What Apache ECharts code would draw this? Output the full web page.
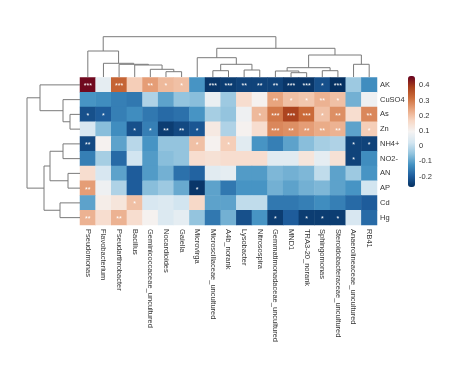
<!DOCTYPE html>
<html><head><meta charset="utf-8">
<script src="https://cdn.jsdelivr.net/npm/echarts@6/dist/echarts.min.js"></script>
<style>html,body{margin:0;padding:0;background:#fff}#c{width:474px;height:365px}</style>
</head><body><div id="c"></div>
<script>
const genera = ['Pseudomonas','Flavobacterium','Pseudarthrobacter','Bacillus','Geminicoccaceae_uncultured','Nocardioides','Gaiella','Microvirga','Microscillaceae_uncultured','A4b_norank','Lysobacter','Nitrosospira','Gemmatimonadaceae_uncultured','MND1','TRA3-20_norank','Sphingomonas','Steroidobacteraceae_uncultured','Anaerolineaceae_uncultured','RB41'];
const factors = ['AK','CuSO4','As','Zn','NH4+','NO2-','AN','AP','Cd','Hg'];

const vAK    = [0.45,0.06,0.33,0.18,0.25,0.21,0.20,-0.12,-0.26,-0.25,-0.24,-0.24,-0.24,-0.26,-0.26,-0.22,-0.27,-0.04,-0.13];
const vCuSO4 = [-0.12,-0.13,-0.15,-0.16,-0.02,-0.10,-0.05,-0.06,0.07,-0.04,0.15,0.10,0.24,0.20,0.19,0.22,0.20,-0.08,0.08];
const vAs    = [-0.22,-0.20,-0.15,-0.13,-0.16,-0.18,-0.17,-0.12,-0.03,-0.05,0.08,0.21,0.30,0.38,0.32,0.20,0.27,0.15,0.28];
const vZn    = [0.03,-0.06,-0.13,-0.22,-0.15,-0.25,-0.23,-0.21,0.12,-0.02,0.10,0.15,0.28,0.27,0.25,0.23,0.22,-0.10,0.18];
const vNH4   = [-0.23,0.10,-0.10,-0.01,-0.12,-0.05,-0.05,0.20,0.10,0.18,0.05,-0.12,-0.15,-0.10,-0.06,-0.03,-0.02,-0.24,-0.24];
const vNO2   = [-0.15,-0.03,-0.18,0.02,-0.11,-0.06,-0.05,0.15,0.14,0.15,0.15,0.15,0.05,0.05,0.13,0.06,0.14,-0.24,-0.13];
const vAN    = [0.15,0.03,-0.10,-0.20,-0.11,-0.08,-0.17,-0.19,0.05,0.06,-0.11,-0.11,-0.07,-0.08,-0.07,0.00,-0.10,-0.04,-0.12];
const vAP    = [0.25,0.08,-0.02,-0.20,-0.06,-0.04,-0.09,-0.26,-0.10,-0.16,-0.12,-0.12,-0.08,-0.10,-0.08,-0.07,-0.10,-0.12,0.02];
const vCd    = [-0.10,0.11,0.13,0.20,0.03,0.04,0.02,0.16,-0.10,-0.10,0.00,0.00,-0.16,-0.16,-0.15,-0.13,-0.15,-0.18,-0.20];
const vHg    = [0.22,0.15,0.22,0.15,0.10,0.04,0.06,-0.05,-0.16,-0.08,-0.22,-0.12,-0.25,-0.20,-0.25,-0.25,-0.25,0.03,-0.18];

const sAK    = ['***','','***','','**','*','*','','***','***','**','**','**','***','***','*','***','',''];
const sCuSO4 = ['','','','','','','','','','','','','**','*','*','**','*','',''];
const sAs    = ['*','*','','','','','','','','','','*','***','***','***','*','**','','**'];
const sZn    = ['','','','*','*','**','**','*','','','','','***','**','**','**','**','','*'];
const sNH4   = ['**','','','','','','','*','','*','','','','','','','','*','*'];
const sNO2   = ['','','','','','','','','','','','','','','','','','*',''];
const sAN    = ['','','','','','','','','','','','','','','','','','',''];
const sAP    = ['**','','','','','','','*','','','','','','','','','','',''];
const sCd    = ['','','','*','','','','','','','','','','','','','','',''];
const sHg    = ['**','','**','','','','','','','','','','*','','*','*','*','',''];

const values = [vAK,vCuSO4,vAs,vZn,vNH4,vNO2,vAN,vAP,vCd,vHg];
const stars  = [sAK,sCuSO4,sAs,sZn,sNH4,sNO2,sAN,sAP,sCd,sHg];

// dendrograms (hclust-style merges: negative = leaf index, positive = earlier merge; third = height)
const colMerges = [[-6,-7,5.3],[-5,1,7.7],[-4,2,12],[-3,3,12.7],[-2,4,13.7],[-1,5,26],
  [-9,-10,6.3],[-11,-12,7],[7,8,12.7],[-8,9,19.3],[-14,-15,4.3],[-13,11,6],[-16,-17,6.3],
  [12,13,9.3],[-18,-19,12.7],[14,15,22],[10,16,28.7],[6,17,40.3]];
const rowMerges = [[-3,-4,10],[-2,1,17],[-1,2,40],[-5,-6,17],[-7,-8,12],[4,5,30],[-9,-10,20],[6,7,36],[3,8,53]];

const cbTicks = [-0.2,-0.1,0,0.1,0.2,0.3,0.4];

function dendro(merges, swap){
  const pos=[], hgt=[], out=[];
  const ref = r => r<0 ? [(-r)-0.5, 0] : [pos[r-1], hgt[r-1]];
  merges.forEach((m,k)=>{
    const [xa,ha]=ref(m[0]), [xb,hb]=ref(m[1]), h=m[2];
    let c=[[xa,ha],[xa,h],[xb,h],[xb,hb]];
    if(swap) c=c.map(p=>[p[1],p[0]]);
    out.push({coords:c});
    pos[k]=(xa+xb)/2; hgt[k]=h;
  });
  return out;
}

const heat=[];
values.forEach((row,r)=>row.forEach((v,c)=>heat.push({value:[c,r,v], star:stars[r][c]})));

const font='Liberation Sans';
const chart=echarts.init(document.getElementById('c'),null,{renderer:'canvas'});
chart.setOption({
  animation:false,
  textStyle:{fontFamily:font},
  grid:[
    {left:80,top:77.5,width:297,height:147.5},
    {left:80,top:36,width:297,height:41},
    {left:25,top:77.5,width:55,height:147.5},
    {left:408,top:70.1,width:7,height:121.6}
  ],
  xAxis:[
    {type:'category',gridIndex:0,data:genera,axisLine:{show:false},axisTick:{show:false},splitLine:{show:false},
     axisLabel:{rotate:-90,fontSize:7.5,color:'#333',margin:4,interval:0,fontFamily:font}},
    {type:'value',gridIndex:1,min:0,max:19,show:false},
    {type:'value',gridIndex:2,min:0,max:55,inverse:true,show:false},
    {type:'value',gridIndex:3,min:0,max:1,show:false}
  ],
  yAxis:[
    {type:'category',gridIndex:0,data:factors,inverse:true,position:'right',axisLine:{show:false},axisTick:{show:false},splitLine:{show:false},
     axisLabel:{fontSize:7.5,color:'#333',margin:3,fontFamily:font}},
    {type:'value',gridIndex:1,min:0,max:41,show:false},
    {type:'value',gridIndex:2,min:0,max:10,inverse:true,show:false},
    {type:'value',gridIndex:3,min:-0.3,max:0.5,interval:0.1,position:'right',axisLine:{show:false},axisTick:{show:false},splitLine:{show:false},
     axisLabel:{fontSize:7.5,color:'#333',margin:4,fontFamily:font,
       formatter:v=>{const r=Math.round(v*10)/10; return cbTicks.indexOf(r)>=0? String(r):'';}}}
  ],
  visualMap:{type:'continuous',seriesIndex:0,min:-0.27,max:0.46,calculable:false,show:true,
    left:408,top:76,itemWidth:7,itemHeight:111,padding:0,text:null,showLabel:false,
    inRange:{color:['#053061','#1f5e9e','#4391c2','#93c4de','#d4e6f1','#f5f3f2','#f7d6c3','#e8a47e','#cd6e3c','#a8401c','#67001f']}},
  series:[
    {type:'heatmap',xAxisIndex:0,yAxisIndex:0,data:heat,
     label:{show:true,formatter:p=>p.data.star,color:'#fff',fontSize:7,fontFamily:font,offset:[0,1.5]},
     itemStyle:{borderWidth:0}},
    {type:'lines',coordinateSystem:'cartesian2d',xAxisIndex:1,yAxisIndex:1,polyline:true,
     data:dendro(colMerges,false),lineStyle:{color:'#7a7a7a',width:1,opacity:1},silent:true},
    {type:'lines',coordinateSystem:'cartesian2d',xAxisIndex:2,yAxisIndex:2,polyline:true,
     data:dendro(rowMerges,true),lineStyle:{color:'#7a7a7a',width:1,opacity:1},silent:true},
    {type:'line',xAxisIndex:3,yAxisIndex:3,data:[],showSymbol:false}
  ]
});
</script></body></html>
